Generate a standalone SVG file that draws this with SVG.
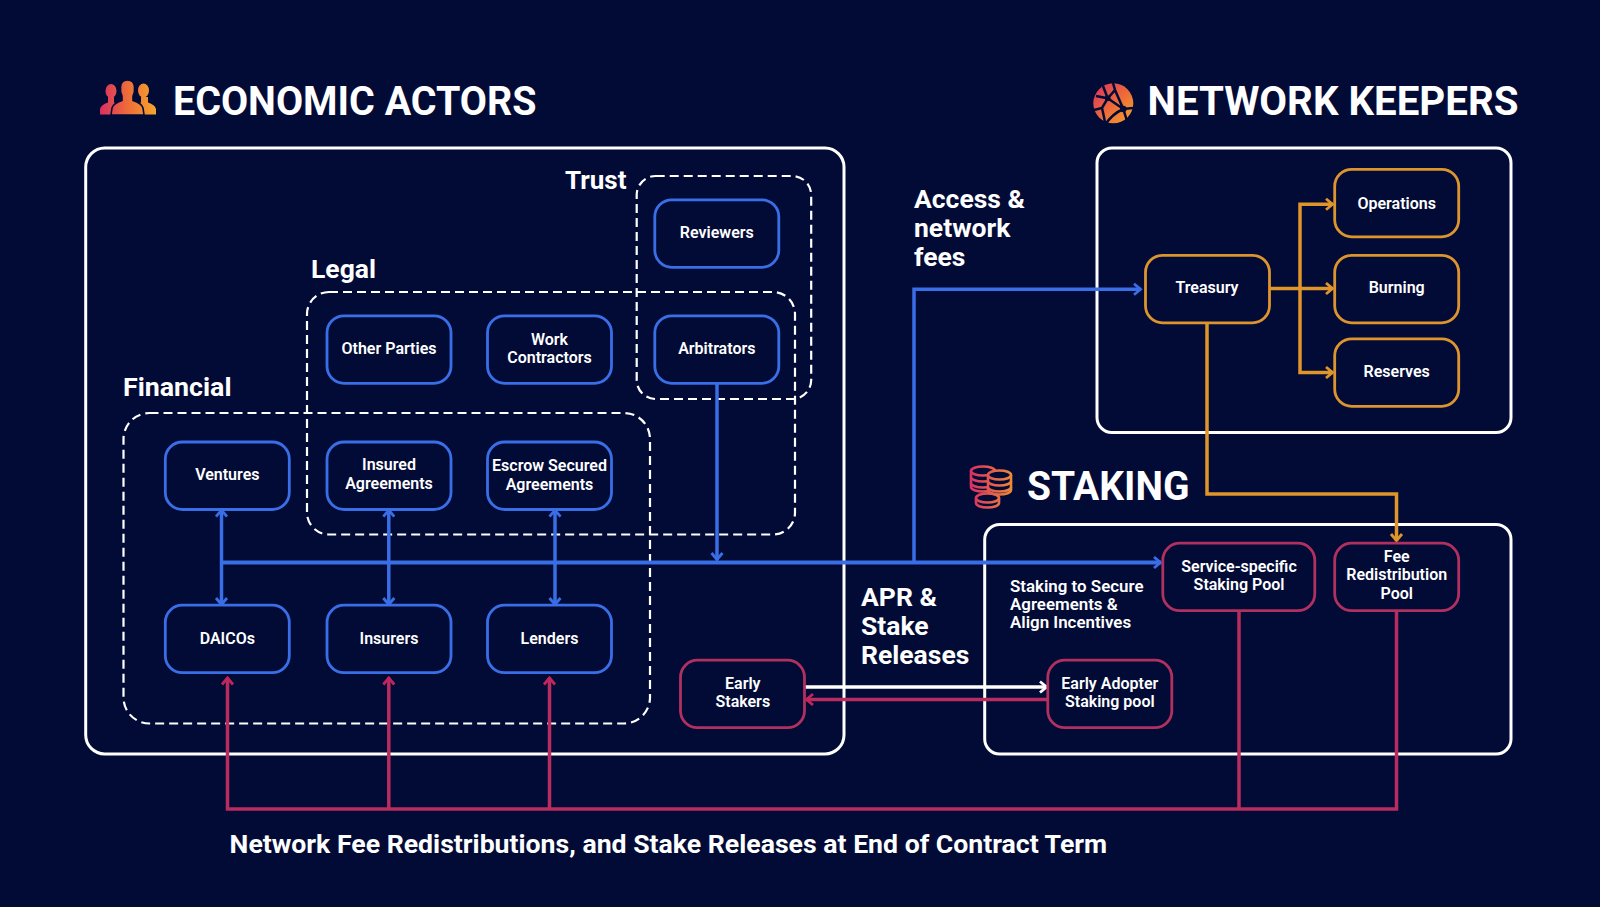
<svg xmlns="http://www.w3.org/2000/svg" width="1600" height="907" viewBox="0 0 1600 907">
<style>
text{font-family:Roboto,"Liberation Sans",sans-serif;fill:#fff;font-weight:700}
.h{font-size:40px}
.g{font-size:26.5px}
.n{font-size:16px;font-weight:600;text-anchor:middle}
.s{font-size:16.9px;font-weight:600}
.panel{fill:none;stroke:#fff;stroke-width:3}
.dash{fill:none;stroke:#fff;stroke-width:2.2;stroke-dasharray:9 5}
.b,.o,.r{fill:#020b36;stroke-width:2.8}
.b{stroke:#3a6ee6}.o{stroke:#dc942f}.r{stroke:#b0305f}
.cb,.co,.cr,.cw{fill:none;stroke-width:3.5}
.cb{stroke:#3a6ee6}.co{stroke:#e0952a}.cr{stroke:#b82c60}.cw{stroke:#fff}
</style>
<defs>
<marker id="ab" markerUnits="userSpaceOnUse" markerWidth="14" markerHeight="16" refX="10" refY="7" orient="auto-start-reverse" overflow="visible"><path d="M3 1.5 L9.5 7 L3 12.5" fill="none" stroke="#3a6ee6" stroke-width="2.8"/></marker>
<marker id="ao" markerUnits="userSpaceOnUse" markerWidth="14" markerHeight="16" refX="10" refY="7" orient="auto-start-reverse" overflow="visible"><path d="M3 1.5 L9.5 7 L3 12.5" fill="none" stroke="#e0952a" stroke-width="2.8"/></marker>
<marker id="ar" markerUnits="userSpaceOnUse" markerWidth="14" markerHeight="16" refX="10" refY="7" orient="auto-start-reverse" overflow="visible"><path d="M3 1.5 L9.5 7 L3 12.5" fill="none" stroke="#c2255c" stroke-width="2.8"/></marker>
<marker id="aw" markerUnits="userSpaceOnUse" markerWidth="14" markerHeight="16" refX="10" refY="7" orient="auto-start-reverse" overflow="visible"><path d="M3 1.5 L9.5 7 L3 12.5" fill="none" stroke="#fff" stroke-width="2.8"/></marker>
<linearGradient id="ig" x1="0" y1="0" x2="1" y2="1"><stop offset="0" stop-color="#d92f63"/><stop offset=".55" stop-color="#ee6d38"/><stop offset="1" stop-color="#f6a52c"/></linearGradient>
<linearGradient id="ih" gradientUnits="userSpaceOnUse" x1="100" y1="0" x2="156" y2="0"><stop offset="0" stop-color="#d92f63"/><stop offset=".5" stop-color="#ee6d38"/><stop offset="1" stop-color="#f6a52c"/></linearGradient>
<linearGradient id="ic" gradientUnits="userSpaceOnUse" x1="970" y1="0" x2="1012" y2="0"><stop offset="0" stop-color="#d92f63"/><stop offset="1" stop-color="#ee8a38"/></linearGradient>
</defs>
<rect width="1600" height="907" fill="#020b36"/>

<g id="economic-actors-panel">
<rect class="panel" x="85.7" y="148" width="758.3" height="606" rx="19"/>
<rect class="dash" x="636.7" y="176" width="174.5" height="223" rx="19"/>
<rect class="dash" x="307" y="292" width="488" height="242.5" rx="22"/>
<rect class="dash" x="123.5" y="413" width="526.5" height="310.5" rx="26"/>
<text class="g" x="565" y="189" textLength="61.5" lengthAdjust="spacingAndGlyphs">Trust</text>
<text class="g" x="311" y="277.5">Legal</text>
<text class="g" x="123" y="396" textLength="108.5" lengthAdjust="spacingAndGlyphs">Financial</text>
</g>
<g id="network-keepers-panel"><rect class="panel" x="1097" y="148" width="414" height="284.5" rx="15"/></g>
<g id="staking-panel"><rect class="panel" x="984.7" y="524.5" width="526.3" height="229.5" rx="15"/>
<text class="s"><tspan x="1010" y="592">Staking to Secure</tspan><tspan x="1010" y="610">Agreements &amp;</tspan><tspan x="1010" y="628">Align Incentives</tspan></text></g>

<g id="titles">
<text class="h" x="173" y="115" textLength="363.5" lengthAdjust="spacingAndGlyphs">ECONOMIC ACTORS</text>
<text class="h" x="1147.5" y="115" textLength="371" lengthAdjust="spacingAndGlyphs">NETWORK KEEPERS</text>
<text class="h" x="1027" y="500" textLength="162.5" lengthAdjust="spacingAndGlyphs">STAKING</text>
<text class="g" x="914" y="207.5">Access &amp;</text>
<text class="g" x="914" y="237">network</text>
<text class="g" x="914" y="266">fees</text>
<text class="g" x="861" y="606">APR &amp;</text>
<text class="g" x="861" y="635">Stake</text>
<text class="g" x="861" y="664">Releases</text>
<text class="g" x="229.6" y="852.5" textLength="877.5" lengthAdjust="spacingAndGlyphs">Network Fee Redistributions, and Stake Releases at End of Contract Term</text>
</g>

<g id="icon-people" fill="url(#ih)">
<ellipse cx="111" cy="91" rx="5.5" ry="7"/>
<ellipse cx="143.5" cy="90.5" rx="5.5" ry="7"/>
<path d="M100 114.5 V109 Q101 104.5 108 102.5 V97 H114 V102.5 L120 105 V114.5Z"/>
<path d="M156 114.5 V109 Q155 104.5 148 102.5 V97 H141 V102.5 L135 105 V114.5Z"/>
<path d="M111 115 L112 108 Q113 103.5 122 100.5 V96 Q120 92 120.5 87 Q121 80 127.5 80 Q134 80 134.5 87 Q135 92 133 96 V100.5 Q142 103.5 143 108 L144 115Z" stroke="#020b36" stroke-width="1.6"/>
</g>
<g id="icon-network">
<circle cx="1113.3" cy="103.3" r="20" fill="url(#ig)"/>
<path d="M1096 96 L1107.7 98.3 L1115 90 L1113 83 M1107.7 98.3 L1123.3 109 L1133 108 M1115 90 L1123.3 109 L1127 121 M1107.7 98.3 L1102 108 L1094 110 M1102 108 Q1104 117 1105 122 M1123.3 109 Q1112 114 1105 125 M1107.7 98.3 L1103 86" fill="none" stroke="#020b36" stroke-width="2.5"/>
<circle cx="1107.7" cy="98.3" r="2.8" fill="#020b36"/><circle cx="1123.3" cy="109" r="3.2" fill="#020b36"/>
</g>
<g id="icon-coins" fill="#020b36" stroke="url(#ic)" stroke-width="2.6">
<path d="M971 471 a12 4.5 0 0 1 24 0 v16 a12 4.5 0 0 1 -24 0z"/>
<path d="M971 471 a12 4.5 0 0 0 24 0 M971 477 a12 4.5 0 0 0 24 0 M971 483 a12 4.5 0 0 0 24 0"/>
<path d="M988 475 a11.5 4.5 0 0 1 23 0 v15 a11.5 4.5 0 0 1 -23 0z"/>
<path d="M988 475 a11.5 4.5 0 0 0 23 0 M988 481 a11.5 4.5 0 0 0 23 0 M988 487 a11.5 4.5 0 0 0 23 0"/>
<path d="M976 498 a11.5 4.5 0 0 1 23 0 v5 a11.5 4.5 0 0 1 -23 0z"/>
<path d="M976 498 a11.5 4.5 0 0 0 23 0"/>
</g>

<g id="connectors">
<path class="cb" d="M221.5 509.6V605" marker-start="url(#ab)" marker-end="url(#ab)"/>
<path class="cb" d="M388.8 509.6V605" marker-start="url(#ab)" marker-end="url(#ab)"/>
<path class="cb" d="M555 509.6V605" marker-start="url(#ab)" marker-end="url(#ab)"/>
<path class="cb" d="M221.5 562.5H1161" marker-end="url(#ab)" style="stroke-width:3.8"/>
<path class="cb" d="M717 384V560" marker-end="url(#ab)"/>
<path class="cb" d="M914 562V289.3H1141" marker-end="url(#ab)"/>
<path class="co" d="M1270 288.5H1333" marker-end="url(#ao)"/>
<path class="co" d="M1333 204.3H1300V372.5H1333" marker-start="url(#ao)" marker-end="url(#ao)"/>
<path class="co" d="M1207 323V494H1396.5V541" marker-end="url(#ao)"/>
<path class="cr" d="M227.5 677.5V809H1396.5V611" marker-start="url(#ar)"/>
<path class="cr" d="M388.8 677.5V809" marker-start="url(#ar)"/>
<path class="cr" d="M549.5 677.5V809" marker-start="url(#ar)"/>
<path class="cr" d="M1239 611V809"/>
<path class="cw" d="M805 687H1047" marker-end="url(#aw)"/>
</g>

<g id="reviewers"><rect class="b" x="654.8" y="199.8" width="124" height="67.5" rx="17"/><text class="n" x="716.8" y="237.5">Reviewers</text></g>
<g id="arbitrators"><rect class="b" x="654.8" y="315.8" width="124" height="67.5" rx="17"/><text class="n" x="716.8" y="354">Arbitrators</text></g>
<g id="other-parties"><rect class="b" x="327" y="315.8" width="124" height="67.5" rx="17"/><text class="n" x="389" y="354">Other Parties</text></g>
<g id="work-contractors"><rect class="b" x="487.5" y="315.8" width="124" height="67.5" rx="17"/><text class="n"><tspan x="549.5" y="344.5">Work</tspan><tspan x="549.5" y="363">Contractors</tspan></text></g>
<g id="ventures"><rect class="b" x="165.3" y="442" width="124" height="67.5" rx="17"/><text class="n" x="227.3" y="480">Ventures</text></g>
<g id="insured-agreements"><rect class="b" x="327" y="442" width="124" height="67.5" rx="17"/><text class="n"><tspan x="389" y="470">Insured</tspan><tspan x="389" y="489">Agreements</tspan></text></g>
<g id="escrow-secured-agreements"><rect class="b" x="487.5" y="442" width="124" height="67.5" rx="17"/><text class="n"><tspan x="549.5" y="471">Escrow Secured</tspan><tspan x="549.5" y="490">Agreements</tspan></text></g>
<g id="daicos"><rect class="b" x="165.3" y="605.2" width="124" height="67.5" rx="17"/><text class="n" x="227.3" y="644">DAICOs</text></g>
<g id="insurers"><rect class="b" x="327" y="605.2" width="124" height="67.5" rx="17"/><text class="n" x="389" y="644">Insurers</text></g>
<g id="lenders"><rect class="b" x="487.5" y="605.2" width="124" height="67.5" rx="17"/><text class="n" x="549.5" y="644">Lenders</text></g>
<g id="early-stakers"><rect class="r" x="680.5" y="660.2" width="124" height="67.5" rx="17"/><text class="n"><tspan x="742.8" y="688.5">Early</tspan><tspan x="742.8" y="707">Stakers</tspan></text></g>
<g id="early-adopter-staking-pool"><rect class="r" x="1047.8" y="660.2" width="124" height="67.5" rx="17"/><text class="n"><tspan x="1109.8" y="688.5">Early Adopter</tspan><tspan x="1109.8" y="707">Staking pool</tspan></text></g>
<g id="service-specific-staking-pool"><rect class="r" x="1162.8" y="543.2" width="152" height="67.5" rx="17"/><text class="n"><tspan x="1239" y="572">Service-specific</tspan><tspan x="1239" y="590">Staking Pool</tspan></text></g>
<g id="fee-redistribution-pool"><rect class="r" x="1334.7" y="543.2" width="124" height="67.5" rx="17"/><text class="n"><tspan x="1396.7" y="562">Fee</tspan><tspan x="1396.7" y="580">Redistribution</tspan><tspan x="1396.7" y="599">Pool</tspan></text></g>
<g id="treasury"><rect class="o" x="1145.5" y="255.3" width="124" height="67.5" rx="17"/><text class="n" x="1207" y="293">Treasury</text></g>
<g id="operations"><rect class="o" x="1334.7" y="169.3" width="124" height="67.5" rx="17"/><text class="n" x="1396.7" y="209">Operations</text></g>
<g id="burning"><rect class="o" x="1334.7" y="255.3" width="124" height="67.5" rx="17"/><text class="n" x="1396.7" y="293">Burning</text></g>
<g id="reserves"><rect class="o" x="1334.7" y="338.8" width="124" height="67.5" rx="17"/><text class="n" x="1396.7" y="377">Reserves</text></g>
<g id="early-return-connector"><path class="cr" d="M1047 699.5H806" marker-end="url(#ar)"/></g>
</svg>
